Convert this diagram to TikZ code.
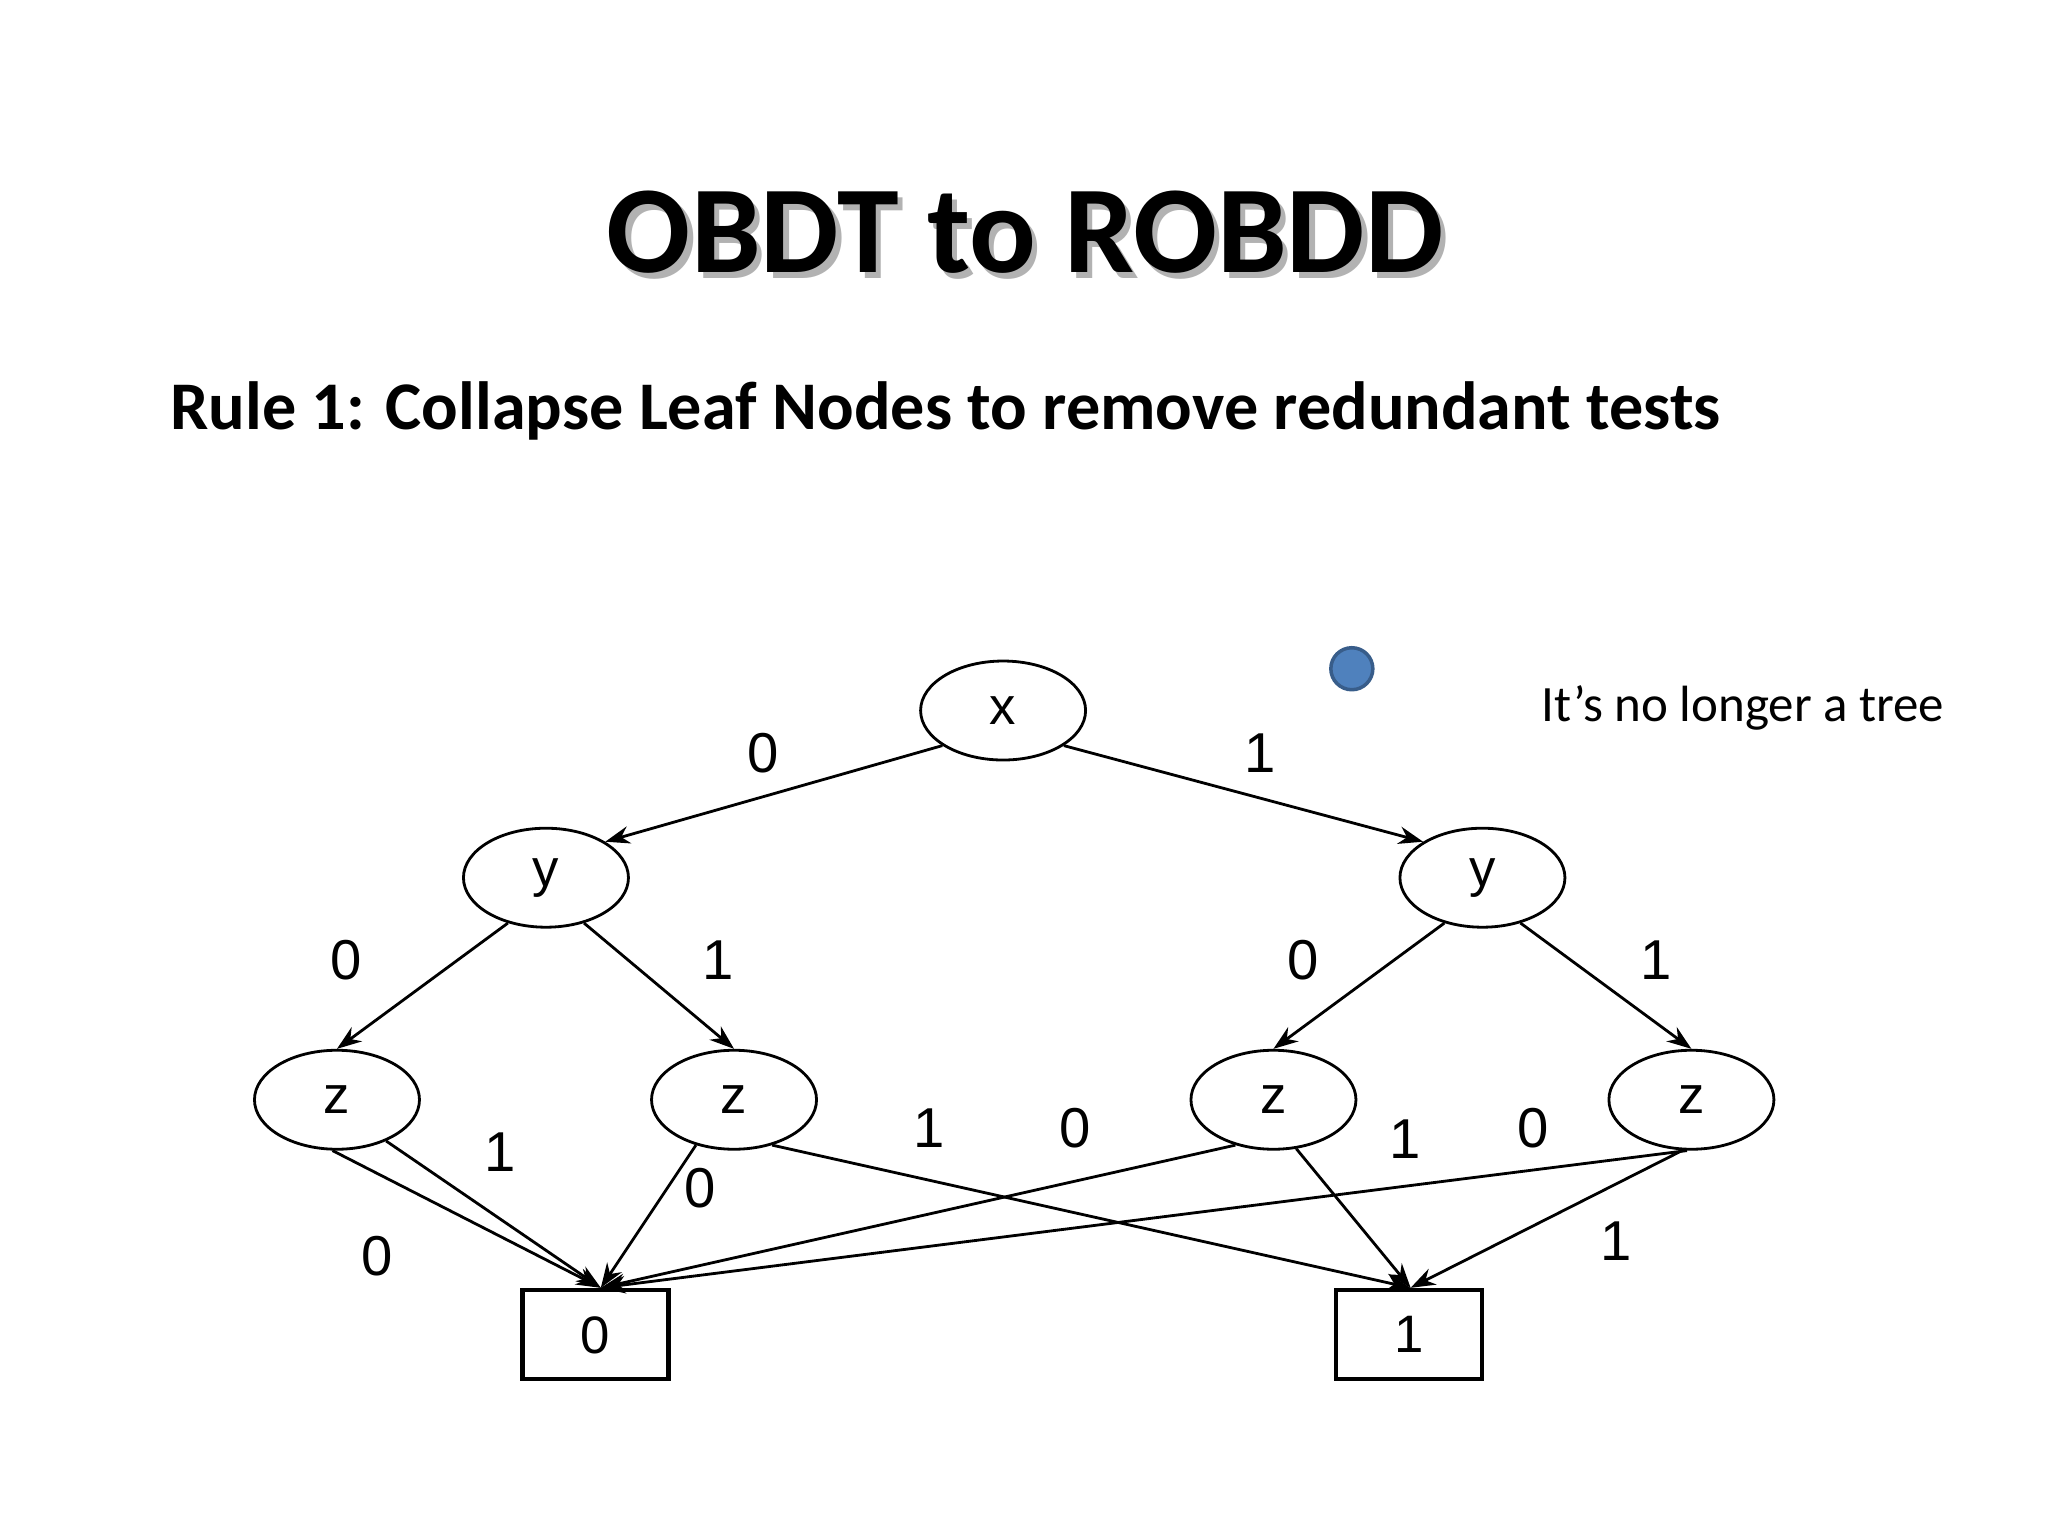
\documentclass[tikz,border=0pt]{standalone}
\usepackage{fontspec}
\setmainfont{Carlito}
\newfontfamily\diag{Liberation Sans}
\usetikzlibrary{arrows.meta,shapes.geometric}
\begin{document}
\begin{tikzpicture}[x=0.013061cm,y=-0.013061cm,
  en/.style={ellipse,draw,line width=0.8pt,minimum width=1.65cm,minimum height=0.99cm,inner sep=0pt,font=\diag\fontsize{15}{15}\selectfont},
  leaf/.style={draw,line width=1.2pt,minimum width=1.46cm,minimum height=0.89cm,inner sep=0pt,font=\diag\fontsize{15}{15}\selectfont},
  ed/.style={-{Stealth[length=7pt,width=5pt]},line width=0.8pt},
  lb/.style={font=\diag\fontsize{16}{16}\selectfont},
  tt/.style={font=\bfseries\fontsize{35.4}{35.4}\selectfont}]
\useasboundingbox (0,0) rectangle (1568,1176);
\node[tt,text=black!30] (tshadow) at (789,182) {OBDT to ROBDD};
\node[tt] (title) at (785,178) {OBDT to ROBDD};
\node[font=\bfseries\fontsize{19.4}{19.4}\selectfont,anchor=west,inner sep=0pt] (sub) at (130,315) {Rule 1: Collapse Leaf Nodes to remove redundant tests};
\node[anchor=west,inner sep=0pt,font=\fontsize{14.5}{14.5}\selectfont] (note) at (1180,542) {It’s no longer a tree};
\node[circle,fill={rgb,255:red,79;green,129;blue,189},draw={rgb,255:red,56;green,93;blue,138},line width=1pt,minimum size=0.42cm,inner sep=0pt] (dot) at (1035,512) {};
\node[en] (x) at (768,544) {x};
\node[en] (yl) at (418,672) {y};
\node[en] (yr) at (1135,672) {y};
\node[en] (z1) at (258,842) {z};
\node[en] (z2) at (562,842) {z};
\node[en] (z3) at (975,842) {z};
\node[en] (z4) at (1295,842) {z};
\node[leaf] (l0) at (456,1022) {0};
\node[leaf] (l1) at (1079,1022) {1};
\coordinate (t0) at (460,986);
\coordinate (t1) at (1080,986);
\draw[ed] (x.-150) -- (yl.north east);
\draw[ed] (x.-30) -- (yr.north west);
\draw[ed] (yl.-130) -- (z1.north);
\draw[ed] (yl.-50) -- (z2.north);
\draw[ed] (yr.-130) -- (z3.north);
\draw[ed] (yr.-50) -- (z4.north);
\draw[ed] (z1.-95) -- (t0);
\draw[ed] (z1.-40) -- (t0);
\draw[ed] (z2.-130) -- (t0);
\draw[ed] (z2.-50) -- (t1);
\draw[ed] (z3.-130) -- (t0);
\draw[ed] (z3.-65) -- (t1);
\draw[ed] (z4.-95) -- (t0);
\draw[ed] (z4.-100) -- (t1);
\node[lb] at (584,577) {0};
\node[lb] at (965,577) {1};
\node[lb] at (265,735) {0};
\node[lb] at (550,735) {1};
\node[lb] at (998,735) {0};
\node[lb] at (1268,735) {1};
\node[lb] at (383,882) {1};
\node[lb] at (289,962) {0};
\node[lb] at (536,910) {0};
\node[lb] at (711,864) {1};
\node[lb] at (823,864) {0};
\node[lb] at (1076,872) {1};
\node[lb] at (1174,864) {0};
\node[lb] at (1237,950) {1};
\end{tikzpicture}
\end{document}
